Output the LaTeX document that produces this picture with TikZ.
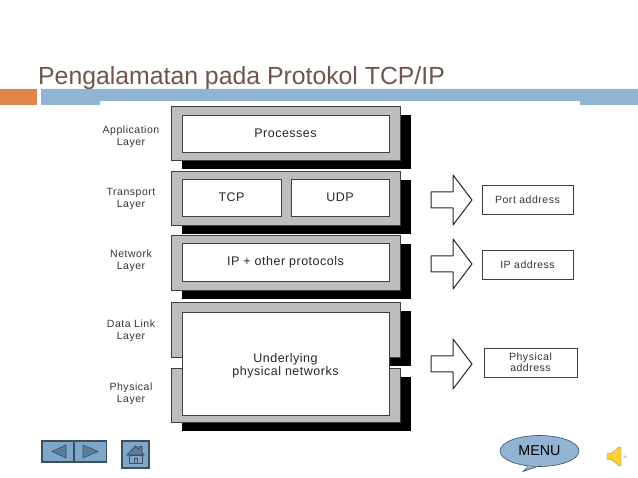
\documentclass[tikz,border=0pt]{standalone}
\usepackage{fontspec}
\setmainfont{Liberation Sans}
\usetikzlibrary{shapes.geometric}
\definecolor{barblue}{HTML}{92B4D3}
\definecolor{barorange}{HTML}{E0864A}
\definecolor{titlebrown}{HTML}{6E544C}
\definecolor{navblue}{HTML}{7FA6CB}
\definecolor{navtri}{HTML}{5C7C9C}
\definecolor{navdark}{HTML}{3F4F5F}
\definecolor{layergray}{HTML}{BDBDBD}
\tikzstyle{layerbox} = [draw=black!75, fill=layergray, line width=.9pt]
\tikzstyle{shadowbox} = [fill=black]
\tikzstyle{innerbox} = [rectangle, draw=black!75, fill=white, line width=.9pt, inner sep=0, align=center, text=black!85, font=\fontsize{12.5}{13.5}\selectfont\addfontfeatures{LetterSpace=4}]
\tikzstyle{layerlabel} = [align=center, inner sep=0, text=black!80, font=\fontsize{10.5}{12}\selectfont\addfontfeatures{LetterSpace=5}]
\tikzstyle{addrbox} = [rectangle, draw=black!75, fill=white, line width=.9pt, inner sep=0, align=center, text=black!80, font=\fontsize{10.5}{11}\selectfont\addfontfeatures{LetterSpace=5}]
\tikzstyle{blockarrow} = [draw=black!85, fill=white, line width=1pt, line join=round]
\tikzstyle{navbtn} = [draw=navdark, fill=navblue, line width=1.2pt]
\tikzstyle{navtriangle} = [draw=navdark, fill=navtri, line width=.6pt]
\begin{document}
\begin{tikzpicture}[x=1pt,y=-1pt]
\useasboundingbox (0,0) rectangle (638,478);
% title and bars
\fill[barorange] (0,89) rectangle (37,105);
\fill[barblue] (41,89) -- (638,89) -- (638,105) -- (580,105) -- (580,101) -- (100,101) -- (100,105) -- (41,105) -- cycle;
\node[anchor=base west, inner sep=0, text=titlebrown, font=\fontsize{24.8}{28}\selectfont] (title) at (38,85) {Pengalamatan pada Protokol TCP/IP};

% layers
\foreach \top/\bot in {106/160,171/225,235/290,302/357,368/422}{
	\fill[shadowbox] (182,\top+9) rectangle (411,\bot+9);
}
\foreach \top/\bot in {106/160,171/225,235/290,302/357,368/422}{
	\draw[layerbox] (171,\top) rectangle (400,\bot);
}
\node[innerbox, minimum width=207pt, minimum height=37pt] (processes) at (285.5,133.5) {Processes};
\node[innerbox, minimum width=99pt, minimum height=37pt] (tcp) at (231.5,197.5) {TCP};
\node[innerbox, minimum width=98pt, minimum height=37pt] (udp) at (340,197.5) {UDP};
\node[innerbox, minimum width=207pt, minimum height=38pt, text depth=1.5pt] (ip) at (285.5,262) {IP + other protocols};
\node[innerbox, minimum width=207pt, minimum height=103pt] (underlying) at (285.5,363.5) {\rule{0pt}{14pt}Underlying\\physical networks};

\node[layerlabel] (application) at (131,136.5) {Application\\Layer};
\node[layerlabel] (transport) at (131,198.5) {Transport\\Layer};
\node[layerlabel] (network) at (131,260.5) {Network\\Layer};
\node[layerlabel] (datalink) at (131,331) {Data Link\\Layer};
\node[layerlabel] (physical) at (131,393.5) {Physical\\Layer};

% block arrows
\foreach \y in {200,264,364}{
	\draw[blockarrow] (431,\y-8) -- (453,\y-8) -- (453,\y-25) -- (472,\y) -- (453,\y+25) -- (453,\y+8) -- (431,\y+8) -- cycle;
}
\node[addrbox, minimum width=91pt, minimum height=29pt] (port) at (527.5,200) {Port address};
\node[addrbox, minimum width=91pt, minimum height=29pt] (ipaddr) at (527.5,264.5) {IP address};
\node[addrbox, minimum width=93pt, minimum height=29pt] (physaddr) at (530.5,362.5) {Physical\\address};

% navigation buttons
\draw[navbtn] (42,441) rectangle (73.5,462);
\draw[navbtn] (74.5,441) rectangle (106.5,462);
\draw[navtriangle] (66,445) -- (66,458) -- (52,451.5) -- cycle;
\draw[navtriangle] (83,445) -- (83,458) -- (98,451.5) -- cycle;
\draw[navbtn] (122,441) rectangle (149,468);
\draw[navtriangle, line width=.8pt] (127,455) -- (135.5,446) -- (139,449.5) -- (139,446.5) -- (142,446.5) -- (142,452.5) -- (144,455) -- cycle;
\draw[draw=navdark, fill=navblue, line width=.8pt] (129,455) rectangle (142,463.5);
\draw[navdark, line width=.8pt] (134,463.5) -- (134,458) -- (137,458) -- (137,463.5);

% menu
\draw[draw=navdark, fill=barblue, line width=.6pt] (528,466.5) -- (523,471.5) -- (536,467);
\node[ellipse, draw=navdark, fill=barblue, line width=.6pt, minimum width=79pt, minimum height=31pt, inner sep=0, font=\fontsize{14.3}{16}\selectfont] (menu) at (539.5,451) {MENU};

% speaker
\fill[yellow!60!orange!80!white, draw=black!50, line width=.3pt] (607,454) -- (612,453) -- (619,447) -- (621,447) -- (621,466) -- (619,466) -- (612,460) -- (607,459) -- cycle;
\foreach \a in {-30,0,30}{
	\draw[black!20, line width=.5pt] (622,456.5) ++(\a:1.5) -- ++(\a:3);
}
\end{tikzpicture}
\end{document}
